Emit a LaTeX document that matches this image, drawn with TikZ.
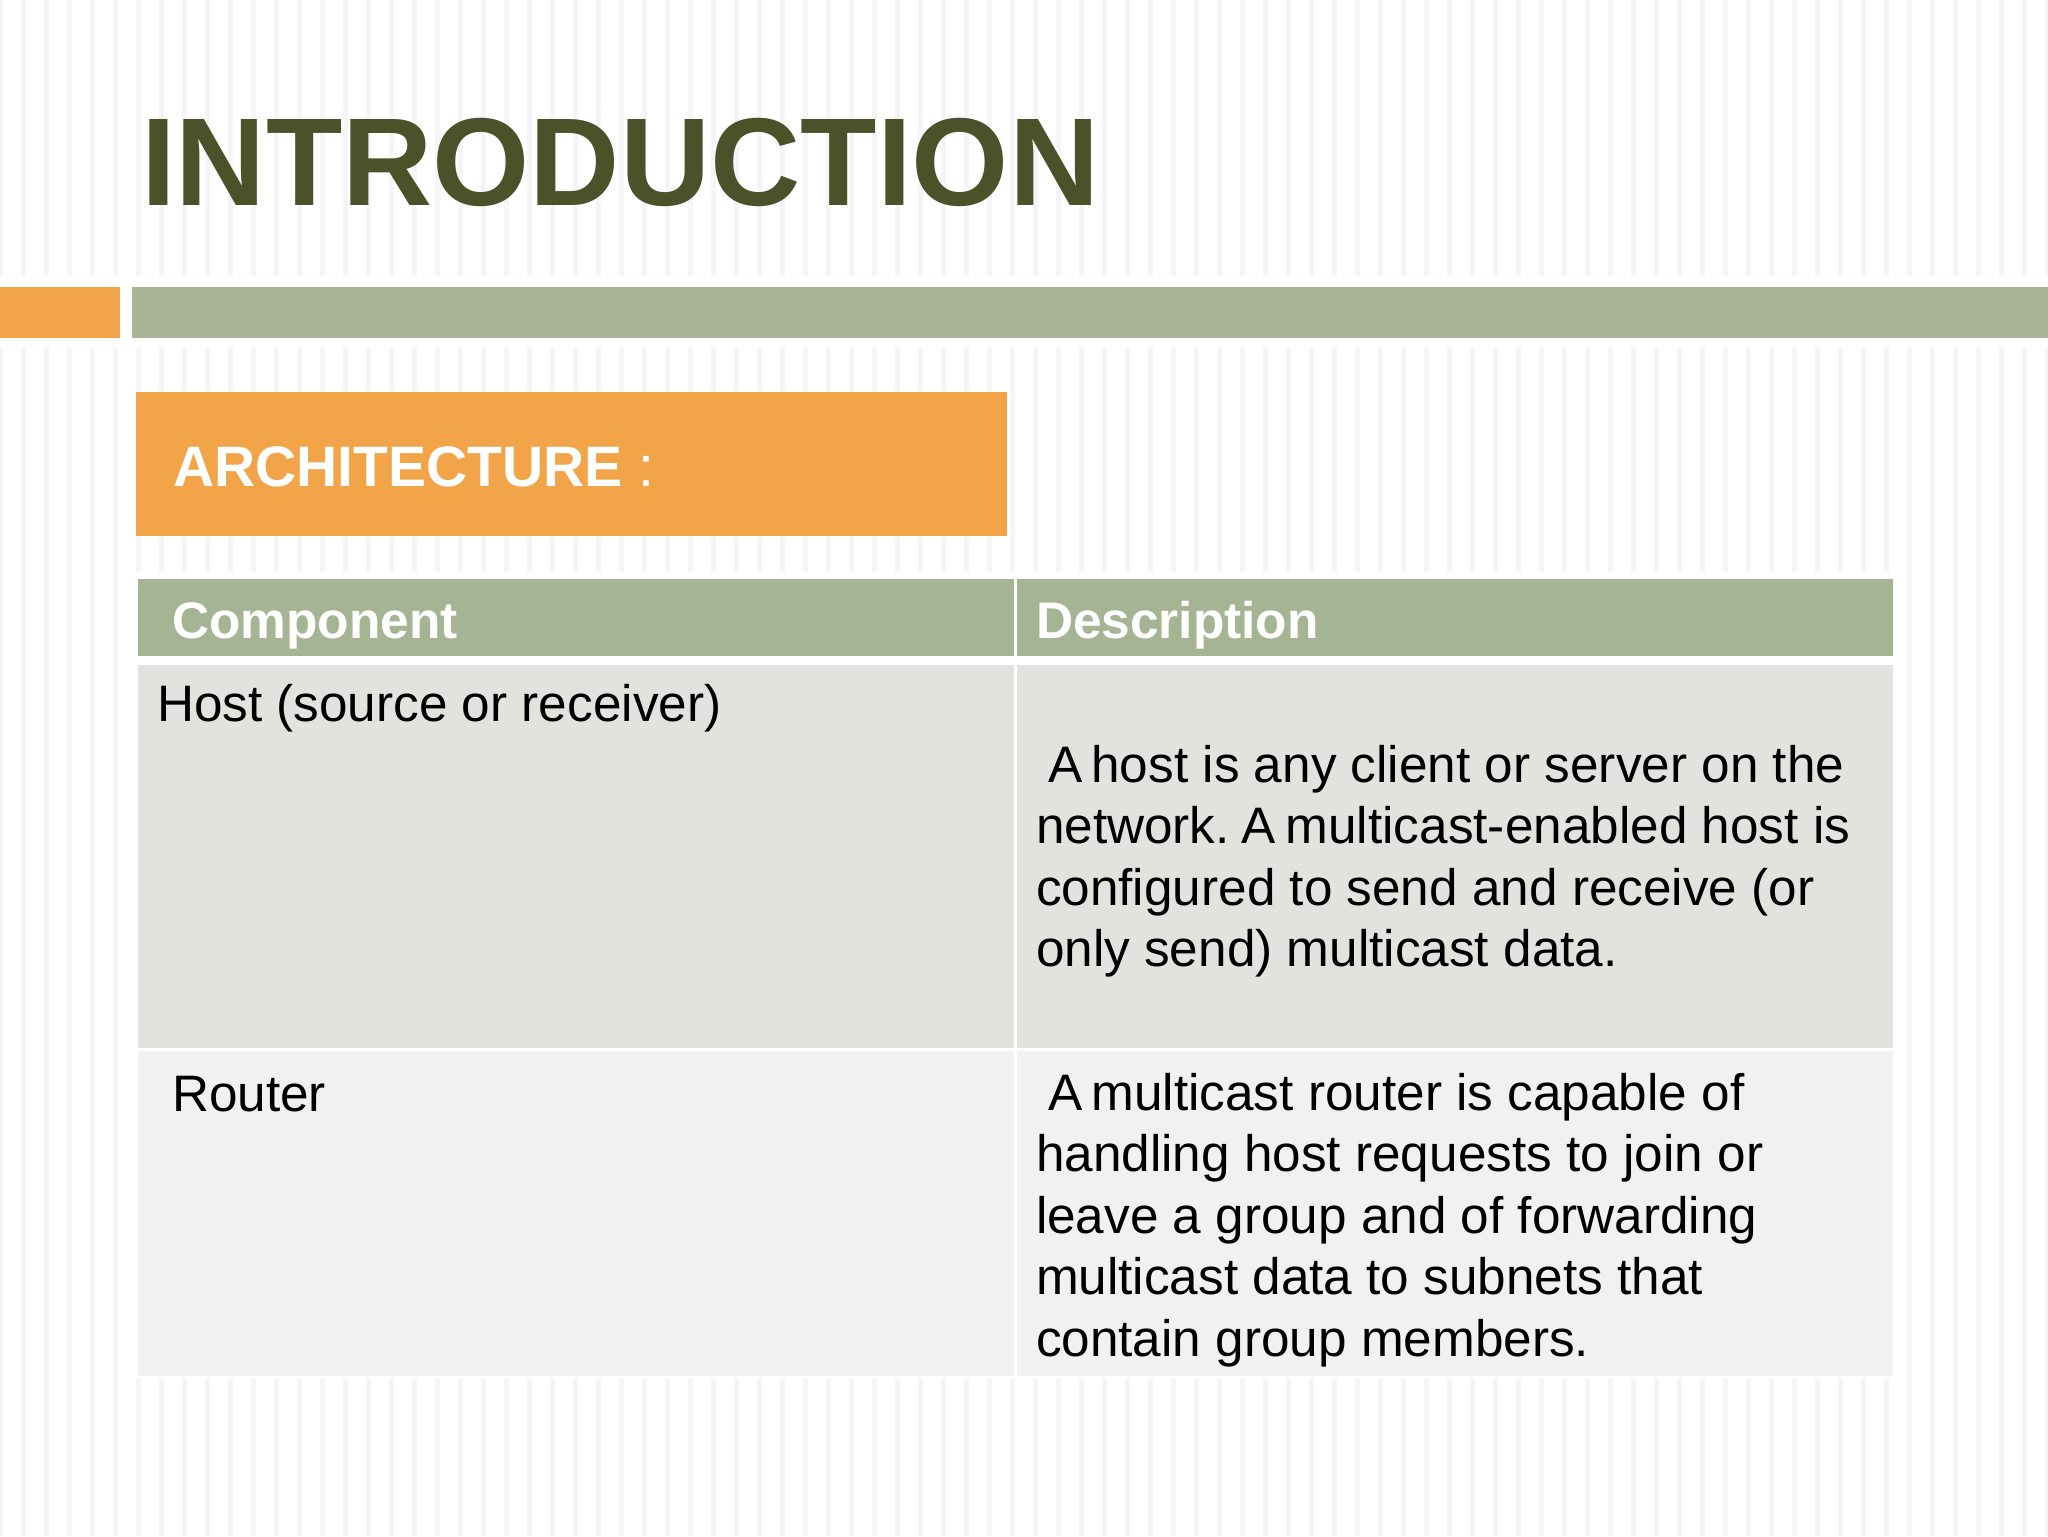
\documentclass[tikz,border=0pt]{standalone}
\usepackage{fontspec}
\setmainfont{Liberation Sans}
\definecolor{titlecol}{HTML}{4A5229}
\definecolor{barorange}{HTML}{F2A548}
\definecolor{bargreen}{HTML}{A9B496}
\definecolor{headgreen}{HTML}{A5B594}
\definecolor{rowa}{HTML}{E2E3DF}
\definecolor{rowb}{HTML}{F1F1F0}
\definecolor{stripe}{HTML}{F5F5F7}
\tikzset{
  x=0.5pt,y=-0.5pt,
  band/.style={fill=#1,draw=none},
  txt/.style={anchor=base west,inner sep=0pt,outer sep=0pt},
  title/.style={txt,text=titlecol,font=\fontsize{62.5}{62.5}\selectfont\bfseries},
  head/.style={txt,text=white,font=\fontsize{25.7}{25.7}\selectfont\bfseries},
  body/.style={txt,text=black,font=\fontsize{25.65}{30.8}\selectfont\frenchspacing,align=left},
}
\begin{document}
\begin{tikzpicture}
\useasboundingbox (0,0) rectangle (2048,1536);
\fill[white] (0,0) rectangle (2048,1536);
\foreach \i in {0,...,89}{
  \fill[stripe] ({\i*23-2},0) rectangle ({\i*23+3},1536);
}
\fill[white] (0,276) rectangle (2048,347);
\fill[band=barorange] (0,287) rectangle (120,338);
\fill[band=bargreen] (132,287) rectangle (2048,338);
\fill[band=barorange] (136,392) rectangle (1007,536);
\fill[white] (136,572) rectangle (1895,1378);
\fill[band=headgreen] (138,579) rectangle (1014,656);
\fill[band=headgreen] (1017,579) rectangle (1893,656);
\fill[band=rowa] (138,665) rectangle (1014,1048);
\fill[band=rowa] (1017,665) rectangle (1893,1048);
\fill[band=rowb] (138,1051) rectangle (1014,1376);
\fill[band=rowb] (1017,1051) rectangle (1893,1376);
\node[title] (t) at (141,205) {INTRODUCTION};
\node[txt,text=white,font=\fontsize{28.5}{28.5}\selectfont] (a) at (173,486) {\textbf{ARCHITECTURE} :};
\node[head] (c1) at (172,638) {Component};
\node[head] (c2) at (1036,638) {Description};
\node[body] (h) at (157,721) {Host (source or receiver)};
\node[body] (r) at (172,1111) {Router};
\node[body,anchor=north west] (hd) at (1036,745) {\hspace*{6pt}A\kern-2.5pt{} host is any client or server on the\\network. \kern-1.5pt A\kern-2pt{} multicast-enabled host is\\configured to send and receive (or\\only send) multicast data.};
\node[body,anchor=north west] (rd) at (1036,1073) {\hspace*{6pt}A\kern-2.5pt{} multicast router is capable of\\handling host requests to join or\\leave a group and of forwarding\\multicast data to subnets that\\contain group members.};
\end{tikzpicture}
\end{document}
